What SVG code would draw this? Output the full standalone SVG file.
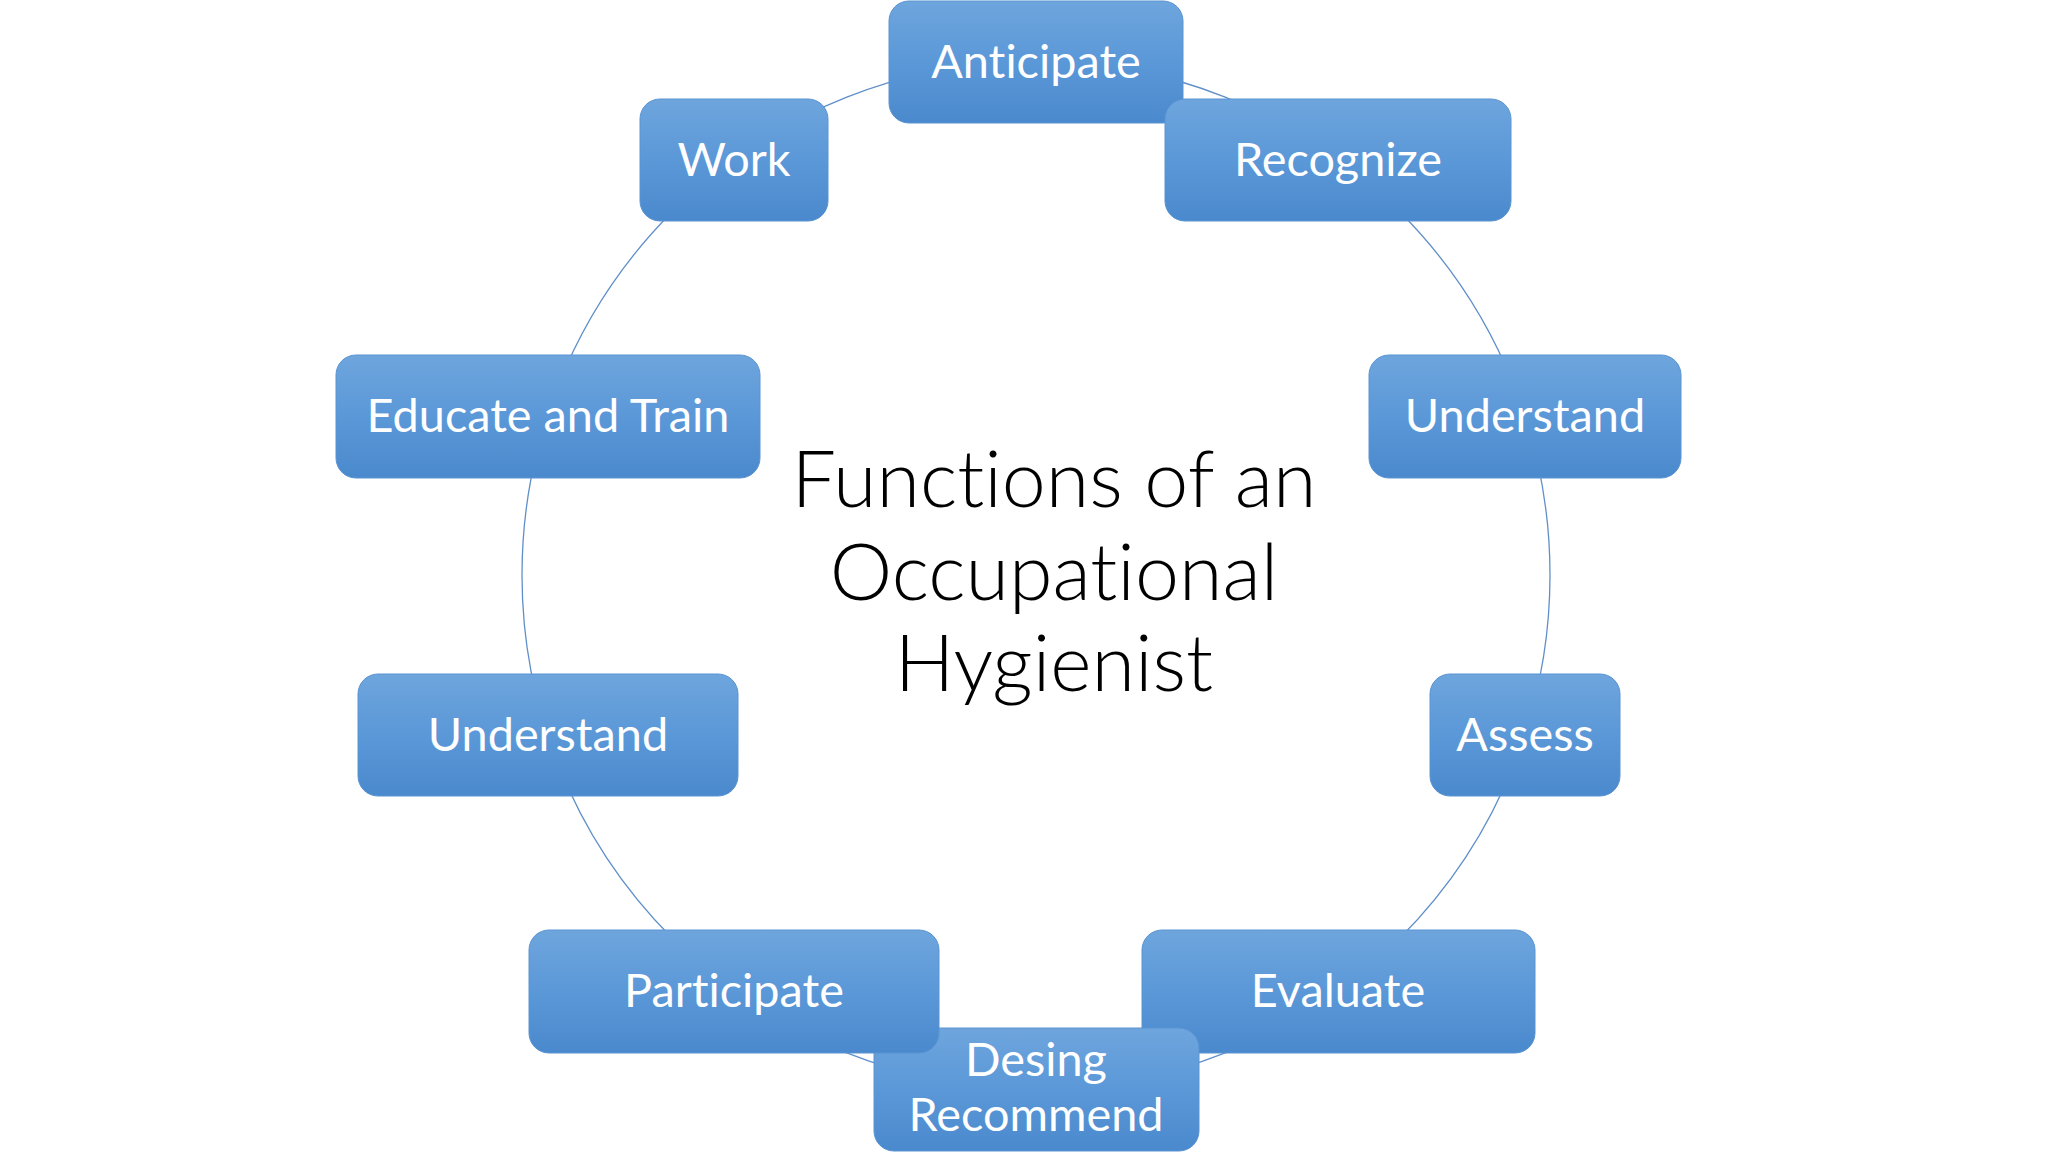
<svg xmlns="http://www.w3.org/2000/svg" width="2048" height="1152" viewBox="0 0 2048 1152">
  <defs>
    <linearGradient id="boxFill" x1="0" y1="0" x2="0" y2="1">
      <stop offset="0" stop-color="#6ea5dd"/>
      <stop offset="0.5" stop-color="#5b98d8"/>
      <stop offset="1" stop-color="#4a89cd"/>
    </linearGradient>
  </defs>
  <style>
    text { font-variant-ligatures: none; font-feature-settings: "liga" 0, "clig" 0; }
    .box { fill: url(#boxFill); stroke: #5a94d2; stroke-width: 1; }
    .lbl { font-family: "Lato", "Open Sans", "Liberation Sans", sans-serif; font-size: 46.8px; fill: #ffffff; text-anchor: middle; }
    .title { font-family: "Lato", "Open Sans", "Liberation Sans", sans-serif; font-weight: 300; font-size: 79px; fill: #000000; text-anchor: middle; }
    .ring { fill: none; stroke: #5f8fc9; stroke-width: 1.3; }
  </style>
  <rect width="2048" height="1152" fill="#ffffff"/>
  <g id="connectors">
    <circle class="ring" cx="1036" cy="575" r="514"/>
  </g>
  <g id="title">
    <text class="title" x="1054" y="507">Functions of an</text>
    <text class="title" x="1054" y="600">Occupational</text>
    <text class="title" x="1054" y="691">Hygienist</text>
  </g>
  <g id="node-anticipate">
    <rect class="box" x="889" y="1" width="294" height="122" rx="20"/>
    <text class="lbl" x="1036" y="78">Anticipate</text>
  </g>
  <g id="node-recognize">
    <rect class="box" x="1165" y="99" width="346" height="122" rx="20"/>
    <text class="lbl" x="1338" y="176">Recognize</text>
  </g>
  <g id="node-understand-right">
    <rect class="box" x="1369" y="355" width="312" height="123" rx="20"/>
    <text class="lbl" x="1525" y="432">Understand</text>
  </g>
  <g id="node-assess">
    <rect class="box" x="1430" y="674" width="190" height="122" rx="20"/>
    <text class="lbl" x="1525" y="751">Assess</text>
  </g>
  <g id="node-evaluate">
    <rect class="box" x="1142" y="930" width="393" height="123" rx="20"/>
    <text class="lbl" x="1338" y="1007">Evaluate</text>
  </g>
  <g id="node-desing-recommend">
    <rect class="box" x="874" y="1028" width="325" height="123" rx="20"/>
    <text class="lbl" x="1036" y="1076">Desing</text>
    <text class="lbl" x="1036" y="1131">Recommend</text>
  </g>
  <g id="node-participate">
    <rect class="box" x="529" y="930" width="410" height="123" rx="20"/>
    <text class="lbl" x="734" y="1007">Participate</text>
  </g>
  <g id="node-understand-left">
    <rect class="box" x="358" y="674" width="380" height="122" rx="20"/>
    <text class="lbl" x="548" y="751">Understand</text>
  </g>
  <g id="node-educate-train">
    <rect class="box" x="336" y="355" width="424" height="123" rx="20"/>
    <text class="lbl" x="548" y="432">Educate and Train</text>
  </g>
  <g id="node-work">
    <rect class="box" x="640" y="99" width="188" height="122" rx="20"/>
    <text class="lbl" x="734" y="176">Work</text>
  </g>
</svg>
